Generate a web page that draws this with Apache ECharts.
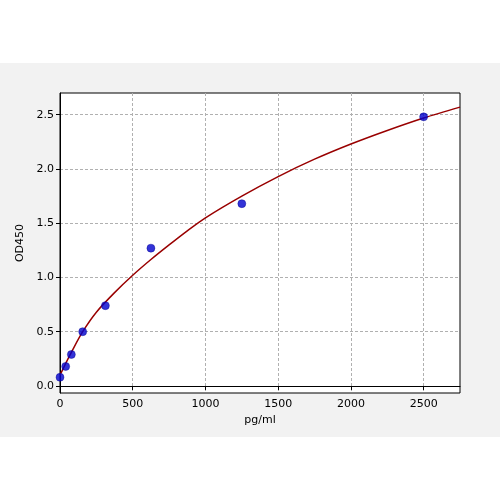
<!DOCTYPE html>
<html>
<head>
<meta charset="utf-8">
<script src="https://cdn.jsdelivr.net/npm/echarts@6/dist/echarts.min.js"></script>
<style>
html, body { margin: 0; padding: 0; background: #ffffff; }
#chart { width: 500px; height: 500px; }
</style>
</head>
<body>
<div id="chart"></div>
<script>
// Standard points
const concentrations = [0, 39, 78, 156, 312, 625, 1250, 2500];
const odValues = [0.08, 0.18, 0.29, 0.50, 0.74, 1.27, 1.68, 2.48];
// Fitted curve
const curveX = [0, 40, 78, 156, 250, 375, 500, 625, 750, 875, 1000, 1250, 1500, 1750, 2000, 2250, 2500, 2750];
const curveY = [0.10, 0.21, 0.31, 0.50, 0.68, 0.86, 1.02, 1.165, 1.30, 1.43, 1.55, 1.75, 1.93, 2.09, 2.23, 2.355, 2.47, 2.57];
// Tick values
const xTicks = [0, 500, 1000, 1500, 2000, 2500];
const yTicks = [0.0, 0.5, 1.0, 1.5, 2.0, 2.5];

const chart = echarts.init(document.getElementById('chart'));
const font = 'DejaVu Sans';
const gridLine = { show: true, lineStyle: { color: '#b0b0b0', type: [3, 2], width: 1 } };

chart.setOption({
  animation: false,
  textStyle: { fontFamily: font },
  graphic: [{
    type: 'rect', left: 0, top: 63, z: -10, silent: true,
    shape: { width: 500, height: 374 },
    style: { fill: '#f2f2f2' }
  }],
  grid: {
    left: 60, top: 93, width: 400, height: 300,
    show: true, backgroundColor: '#ffffff', borderColor: '#000000', borderWidth: 1
  },
  xAxis: {
    type: 'value', min: 0, max: 2750,
    name: 'pg/ml', nameLocation: 'middle', nameGap: 22,
    nameTextStyle: { color: '#000', fontSize: 11, fontFamily: font },
    axisLine: { show: true, lineStyle: { color: '#000' } },
    axisTick: { show: true, length: 4, lineStyle: { color: '#000' }, customValues: xTicks },
    axisLabel: { color: '#000', fontSize: 11, fontFamily: font, margin: 6,
      customValues: xTicks, formatter: v => String(Math.round(v)) },
    splitLine: gridLine
  },
  yAxis: {
    type: 'value', min: -0.065, max: 2.7,
    name: 'OD450', nameLocation: 'middle', nameGap: 24,
    nameTextStyle: { color: '#000', fontSize: 11, fontFamily: font },
    axisLine: { show: true, lineStyle: { color: '#000' } },
    axisTick: { show: true, length: 4, lineStyle: { color: '#000' }, customValues: yTicks },
    axisLabel: { color: '#000', fontSize: 11, fontFamily: font, margin: 6,
      customValues: yTicks, formatter: v => Number(v).toFixed(1) },
    splitLine: gridLine
  },
  series: [
    {
      type: 'line', smooth: 0.3, showSymbol: false,
      data: curveX.map((x, i) => [x, curveY[i]]),
      lineStyle: { color: '#990000', width: 1.5 },
      z: 2
    },
    {
      type: 'scatter', symbol: 'circle', symbolSize: 8,
      data: concentrations.map((x, i) => [x, odValues[i]]),
      itemStyle: { color: '#0000cd', borderColor: '#00008b', borderWidth: 0.5 },
      z: 3
    }
  ]
});
</script>
</body>
</html>
